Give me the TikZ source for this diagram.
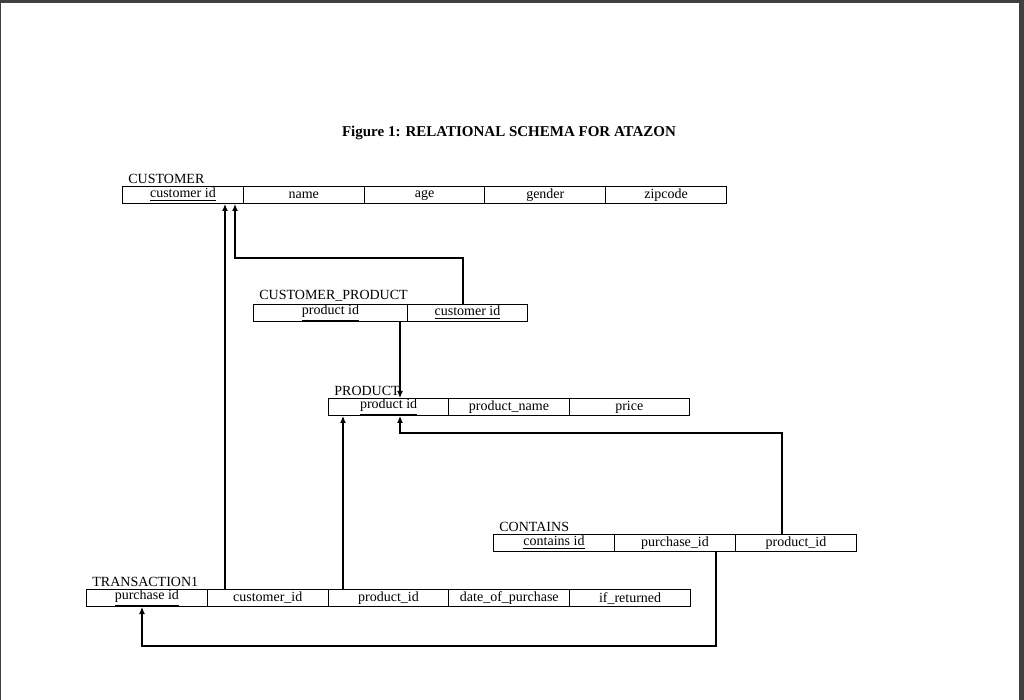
\documentclass[tikz,border=0pt]{standalone}
\usepackage{fontspec}
\setmainfont{Liberation Serif}
\begin{document}
\begin{tikzpicture}[x=0.5pt,y=-0.5pt,
  cell/.style={draw,line width=0.5pt,inner sep=0pt,anchor=north west,font=\fontsize{7}{8}\selectfont},
  lab/.style={anchor=south west,inner sep=0pt,font=\fontsize{7}{8}\selectfont},
  ln/.style={line width=0.6pt},
  ar/.style={ln,-{Latex[length=3.5pt,width=3pt]}}]
\usetikzlibrary{arrows.meta}
\fill[white] (0,0) rectangle (1024,700);
\fill[black!75] (0,0) rectangle (1024,3);
\fill[black!75] (1019,0) rectangle (1024,700);
\fill[black!75] (0,0) rectangle (1,700);
\useasboundingbox (0,0) rectangle (1024,700);
\node[font=\bfseries\fontsize{7.5}{9}\selectfont] (title) at (509,133) {Figure 1: RELATIONAL SCHEMA FOR ATAZON};
\newcommand\tbl[5]{% name, y, x0, width, list
  \foreach \t [count=\i from 0] in {#5} {
    \node[cell,minimum width=#4*0.5pt,minimum height=8.5pt] (#1\i) at (#3+\i*#4,#2) {\t};
  }}
\node[lab] (lc) at (128,184) {CUSTOMER};
\tbl{c}{186}{122}{120.8}{\underline{customer id},name,age,gender,zipcode}
\node[lab] (lcp) at (259,302) {CUSTOMER\_PRODUCT};
\node[cell,minimum width=77pt,minimum height=8.5pt] (cp0) at (253,304) {\underline{product id}};
\node[cell,minimum width=60pt,minimum height=8.5pt] (cp1) at (407,304) {\underline{customer id}};
\node[lab] (lp) at (334,396) {PRODUCT};
\tbl{p}{398}{328}{120.3}{\underline{product id},product\_name,price}
\node[lab] (lk) at (499,532) {CONTAINS};
\tbl{k}{534}{493}{121}{\underline{contains id},purchase\_id,product\_id}
\node[lab] (lt) at (92,587) {TRANSACTION1};
\tbl{t}{589}{86}{120.8}{\underline{purchase id},customer\_id,product\_id,date\_of\_purchase,if\_returned}
\coordinate (a1) at (463,258);
\coordinate (a2) at (235,258);
\draw[ar] (cp1.north -| a1) -- (a1) -- (a2) -- (a2 |- c0.south);
\draw[ar] (t1.north -| 225,0) -- (c0.south -| 225,0);
\draw[ar] (cp0.south -| 400,0) -- (p0.north -| 400,0);
\draw[ar] (t2.north -| 343,0) -- (p0.south -| 343,0);
\coordinate (b1) at (782,433);
\coordinate (b2) at (400,433);
\draw[ar] (k2.north -| b1) -- (b1) -- (b2) -- (b2 |- p0.south);
\coordinate (d1) at (716,646);
\coordinate (d2) at (142,646);
\draw[ar] (k1.south -| d1) -- (d1) -- (d2) -- (d2 |- t0.south);
\end{tikzpicture}
\end{document}
